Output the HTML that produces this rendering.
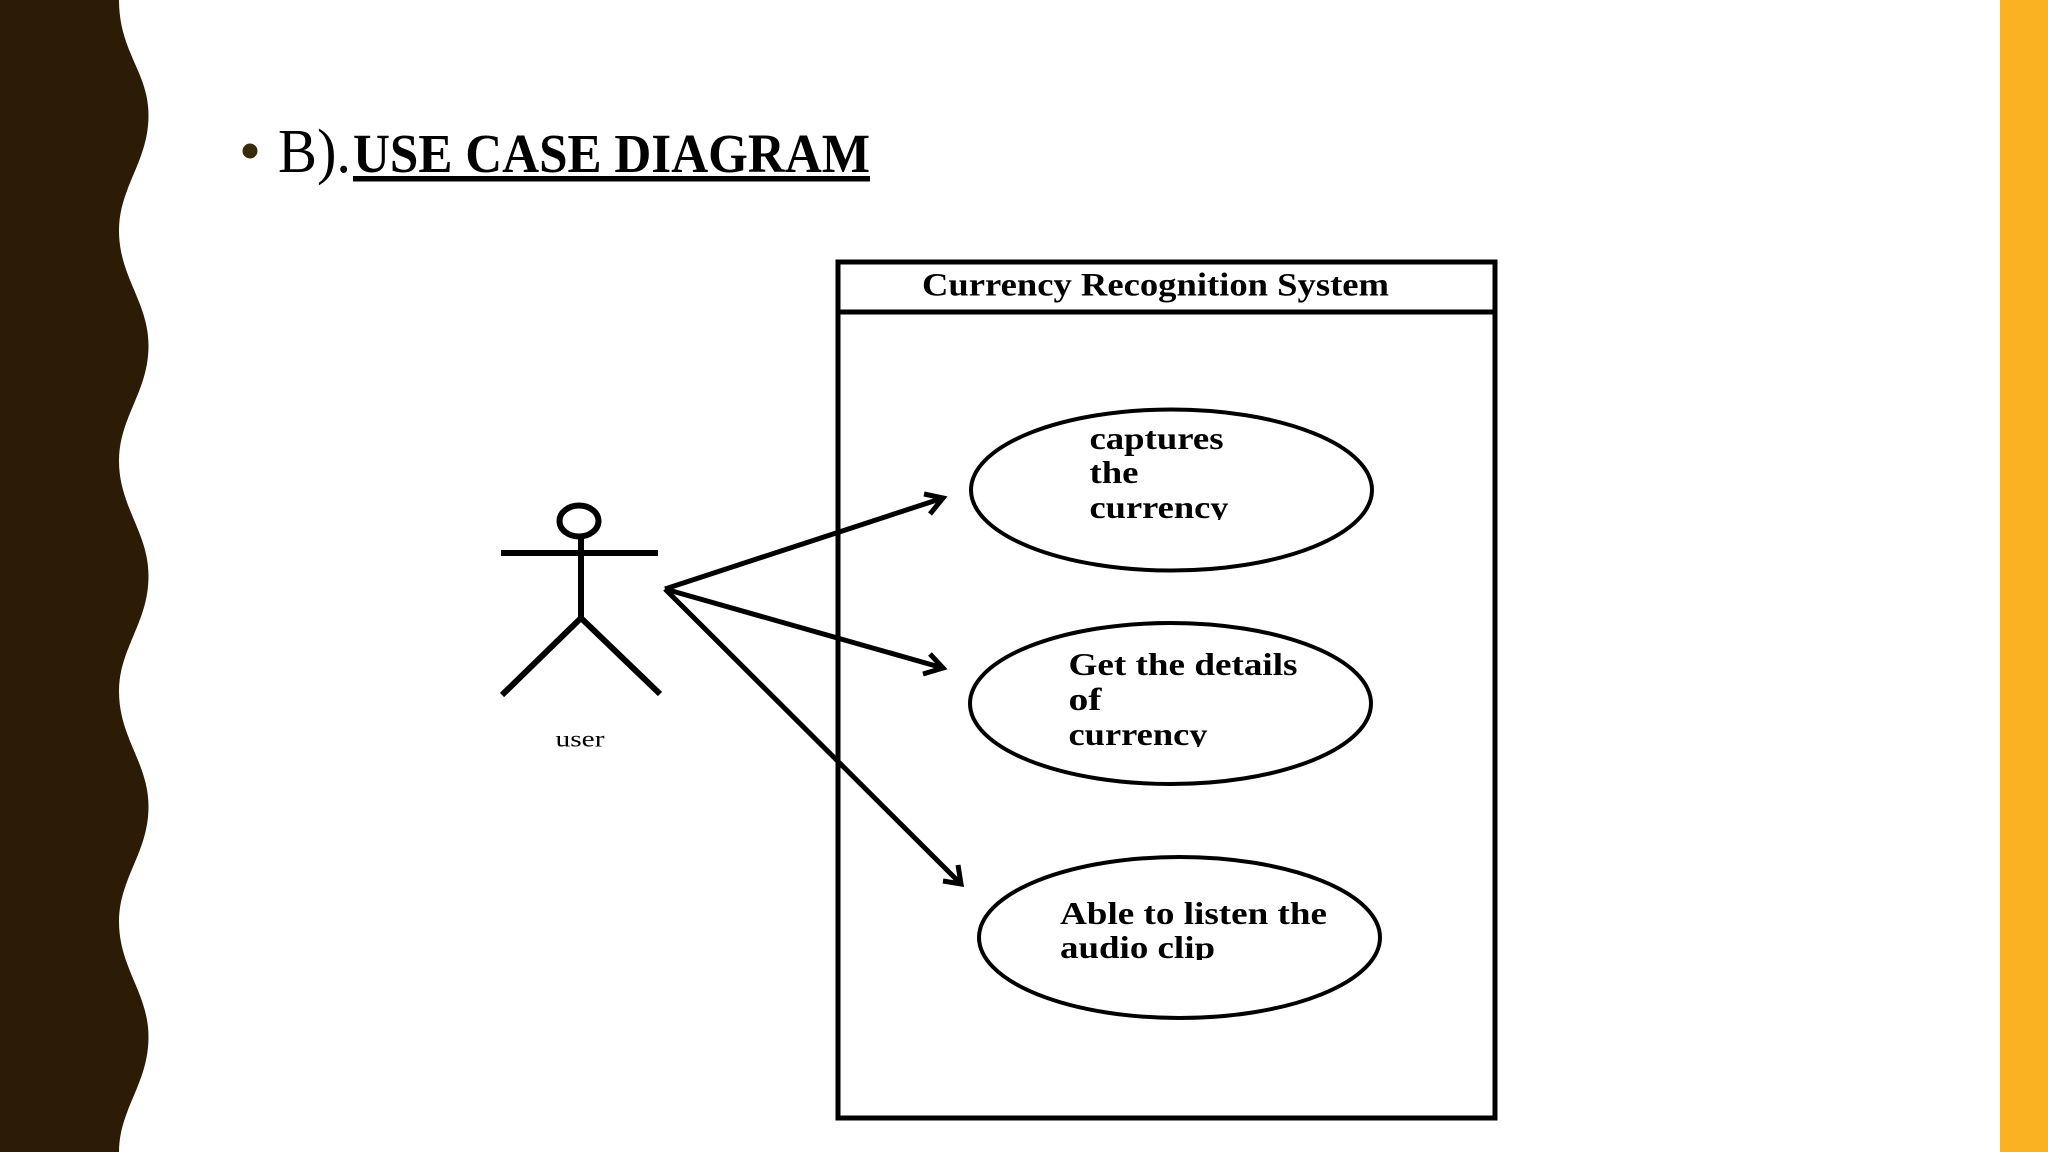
<!DOCTYPE html>
<html>
<head>
<meta charset="utf-8">
<style>
html,body{margin:0;padding:0;background:#fff;width:2048px;height:1152px;overflow:hidden}
svg{display:block}
text{font-family:"Liberation Serif",serif}
</style>
</head>
<body>
<svg width="2048" height="1152" viewBox="0 0 2048 1152" xmlns="http://www.w3.org/2000/svg">
<rect width="2048" height="1152" fill="#fff"/>
<path fill="#2c1b05" d="M0,0 L119,0 C119,52 148.500,72 148.500,115 C148.500,162 119,187 119,230.400 C119,277 148.500,302 148.500,345.600 C148.500,392 119,417 119,460.800 C119,507 148.500,532 148.500,576 C148.500,623 119,648 119,691.200 C119,738 148.500,763 148.500,806.400 C148.500,853 119,878 119,921.600 C119,968 148.500,993 148.500,1036.800 C148.500,1084 119,1109 119,1152 L0,1152 Z"/>
<rect x="2000" y="0" width="48" height="1152" fill="#fbb222"/>

<circle cx="250" cy="151" r="7.5" fill="#3a2a0c"/>
<text x="278" y="172" font-size="62" textLength="73" lengthAdjust="spacingAndGlyphs" fill="#000">B).</text>
<text x="353" y="172" font-size="55" font-weight="bold" textLength="517" lengthAdjust="spacingAndGlyphs" fill="#000">USE CASE DIAGRAM</text>
<rect x="353" y="176" width="517" height="5.500" fill="#000"/>

<g fill="none" stroke="#000" stroke-width="5">
<rect x="838" y="262" width="657" height="856"/>
<line x1="838" y1="312" x2="1495" y2="312"/>
</g>
<text x="922" y="295.500" font-size="33" font-weight="bold" textLength="467" lengthAdjust="spacingAndGlyphs" fill="#000">Currency Recognition System</text>

<g fill="#fff" stroke="#000" stroke-width="4">
<ellipse cx="1171.500" cy="490" rx="200.500" ry="80.500"/>
<ellipse cx="1170.500" cy="703.500" rx="200.500" ry="80.500"/>
<ellipse cx="1179.500" cy="937.500" rx="200.500" ry="80.500"/>
</g>

<g font-size="32" font-weight="bold" fill="#000">
<text x="1089.500" y="449" textLength="134" lengthAdjust="spacingAndGlyphs">captures</text>
<text x="1089.500" y="483" textLength="49" lengthAdjust="spacingAndGlyphs">the</text>
<text x="1089.500" y="518" textLength="139" lengthAdjust="spacingAndGlyphs">currency</text>
<text x="1068.500" y="675" textLength="229" lengthAdjust="spacingAndGlyphs">Get the details</text>
<text x="1068.500" y="710" textLength="33" lengthAdjust="spacingAndGlyphs">of</text>
<text x="1068.500" y="745" textLength="139" lengthAdjust="spacingAndGlyphs">currency</text>
<text x="1060" y="924" textLength="267" lengthAdjust="spacingAndGlyphs">Able to listen the</text>
<text x="1060" y="958" textLength="155" lengthAdjust="spacingAndGlyphs">audio clip</text>
</g>
<rect x="1085" y="520" width="150" height="12" fill="#fff"/>
<rect x="1064" y="747" width="150" height="12" fill="#fff"/>
<rect x="1055" y="960" width="165" height="12" fill="#fff"/>

<g fill="none" stroke="#000" stroke-width="6">
<ellipse cx="579" cy="521" rx="19.500" ry="15.500"/>
<line x1="581" y1="536" x2="581" y2="618"/>
<line x1="501" y1="553" x2="658" y2="553"/>
<path d="M502,695 L581,618 L660,694"/>
</g>
<text x="555.500" y="746.500" font-size="23" textLength="49" lengthAdjust="spacingAndGlyphs" fill="#000">user</text>

<g fill="none" stroke="#000" stroke-width="5">
<line x1="665" y1="589" x2="943" y2="498"/>
<line x1="665" y1="589" x2="943" y2="668"/>
<line x1="665" y1="589" x2="961" y2="884"/>
<path d="M924,494 L943,498 L930,514"/>
<path d="M930,654 L943,668 L923,674"/>
<path d="M958,865 L961,884 L943,881"/>
</g>
</svg>
</body>
</html>
